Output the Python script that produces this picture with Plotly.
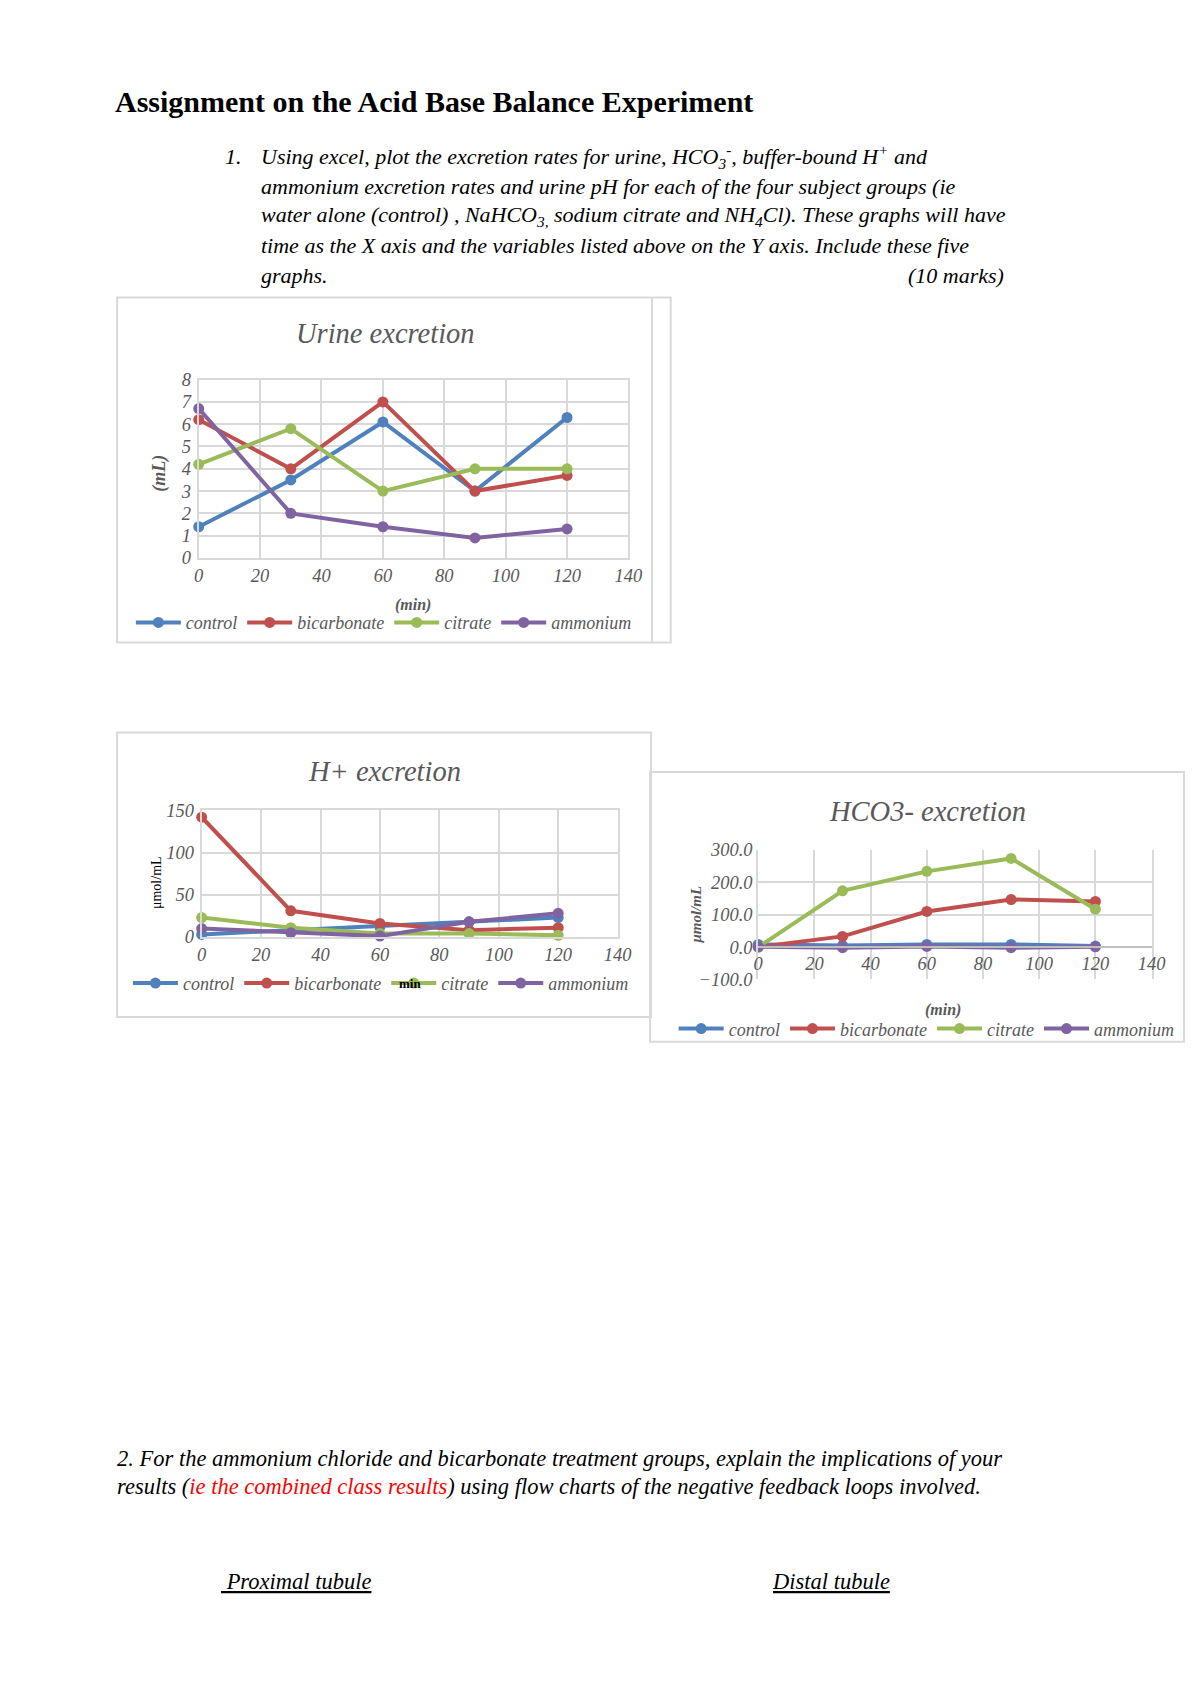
import plotly.graph_objects as go

W, H = 1200, 1698

# ---------------- data ----------------
times = [0, 30, 60, 90, 120]
groups = ["control", "bicarbonate", "citrate", "ammonium"]
colors = ["#4F81BD", "#C0504D", "#9BBB59", "#8064A2"]

urine_control = [1.4, 3.5, 6.1, 3.0, 6.3]
urine_bicarbonate = [6.2, 4.0, 7.0, 3.0, 3.7]
urine_citrate = [4.2, 5.8, 3.0, 4.0, 4.0]
urine_ammonium = [6.7, 2.0, 1.4, 0.9, 1.3]

h_control = [3, 8, 12, 18, 23]
h_bicarbonate = [142, 31, 16, 8, 11]
h_citrate = [23, 11, 4, 4, 2]
h_ammonium = [10, 5, 1, 18, 28]

hco3_control = [8, 5, 8, 8, 3]
hco3_bicarbonate = [0, 33, 110, 147, 141]
hco3_citrate = [0, 174, 234, 274, 117]
hco3_ammonium = [1, -2, 2, -2, 1]

x_ticks = [0, 20, 40, 60, 80, 100, 120, 140]

FONT = "Liberation Serif"
GRAY = "#595959"
GRID = "#D9D9D9"


def px(x):
    return x / W


def py(y):
    return 1 - y / H


fig = go.Figure()

series = [
    ("", "legend", [urine_control, urine_bicarbonate, urine_citrate, urine_ammonium]),
    ("2", "legend2", [h_control, h_bicarbonate, h_citrate, h_ammonium]),
    ("3", "legend3", [hco3_control, hco3_bicarbonate, hco3_citrate, hco3_ammonium]),
]
for suffix, leg, vals in series:
    for name, col, v in zip(groups, colors, vals):
        fig.add_trace(go.Scatter(
            x=times, y=v, name=name, mode="lines+markers",
            line=dict(color=col, width=4),
            marker=dict(color=col, size=11),
            xaxis="x" + suffix, yaxis="y" + suffix,
            legend=leg, cliponaxis=False,
        ))

tickfont = dict(family=FONT, size=18.5, color=GRAY, style="italic")


def axis(**kw):
    base = dict(showgrid=True, gridcolor=GRID, gridwidth=2, showline=True,
                linecolor=GRID, linewidth=2, mirror=True, zeroline=False,
                tickfont=tickfont, ticks="", fixedrange=True)
    base.update(kw)
    return base


fig.update_layout(
    xaxis=axis(domain=[px(197), px(634)], range=[0, 140], tickvals=x_ticks, anchor="y"),
    yaxis=axis(domain=[py(554.5), py(374)], range=[0, 8], dtick=1, anchor="x",
               ticklabelstandoff=2),
    xaxis2=axis(domain=[px(200), px(623)], range=[0, 140], tickvals=x_ticks, anchor="y2"),
    yaxis2=axis(domain=[py(938), py(810)], range=[0, 150], dtick=50, anchor="x2",
                ticklabelstandoff=2),
    xaxis3=axis(domain=[px(766), px(1166)], range=[0, 140], tickvals=x_ticks,
                anchor="free", position=py(981 - 131 * 0.25), mirror=False,
                linecolor="#BFBFBF"),
    yaxis3=axis(domain=[py(981), py(850)], range=[-100, 300], dtick=100,
                tickformat=".1f", anchor="x3", ticklabelstandoff=0),
)

legend_common = dict(orientation="h", xanchor="left", yanchor="middle",
                     font=dict(family=FONT, size=18, color=GRAY, style="italic"),
                     itemwidth=45, bgcolor="rgba(0,0,0,0)", tracegroupgap=0)
fig.update_layout(
    legend=dict(x=px(128), y=py(620), **legend_common),
    legend2=dict(x=px(125), y=py(985), **legend_common),
    legend3=dict(x=px(680), y=py(1031), **legend_common),
)

ann = []


def text(x, y, s, size=22, color="black", anchor="left", style="italic",
         weight="normal", angle=0, **kw):
    ann.append(dict(x=px(x), y=py(y), xref="paper", yref="paper", text=s,
                    showarrow=False, xanchor=anchor, yanchor="middle",
                    textangle=angle,
                    font=dict(family=FONT, size=size, color=color, style=style,
                              weight=weight, **kw)))


# document text
text(110, 93, "Assignment on the Acid Base Balance Experiment", size=30,
     style="normal", weight="bold")
text(222, 148.5, "1.")
body = [
    "Using excel, plot the excretion rates for urine, HCO<sub>3</sub><sup>-</sup>, buffer-bound H<sup>+</sup> and",
    "ammonium excretion rates and urine pH for each of the four subject groups (ie",
    "water alone (control) , NaHCO<sub>3,</sub> sodium citrate and NH<sub>4</sub>Cl). These graphs will have",
    "time as the X axis and the variables listed above on the Y axis. Include these five",
    "graphs.",
]
for i, line in enumerate(body):
    text(258, 148.5 + i * 30.1, line)
text(1018, 269, "(10 marks)", anchor="right")

text(112, 1465.5, "2. For the ammonium chloride and bicarbonate treatment groups, explain the implications of your", size=22.5)
text(112, 1494.5, "results (<span style='color:red'>ie the combined class results</span>) using flow charts of the negative feedback loops involved.", size=22.5)
text(218, 1590, " Proximal tubule", lineposition="under", size=22.5)
text(778, 1590, "Distal tubule", lineposition="under", size=22.5)

# chart titles
text(387, 327, "Urine excretion", size=28.5, color=GRAY, anchor="center")
text(386, 771, "H+ excretion", size=28.5, color=GRAY, anchor="center")
text(938, 811, "HCO3- excretion", size=28.5, color=GRAY, anchor="center")

# axis titles
text(157, 469, "(mL)", size=18, color=GRAY, anchor="center", angle=-90, weight="bold")
text(415, 602, "(min)", size=16, color=GRAY, anchor="center", weight="bold")
text(154, 883, "μmol/mL", size=14, color="black", anchor="center", angle=-90,
     style="normal")
text(412, 985, "min", size=13, color="black", anchor="center", weight="bold",
     style="normal")
text(703, 915, "μmol/mL", size=15, color=GRAY, anchor="center", angle=-90, weight="bold")
text(954, 1012, "(min)", size=16, color=GRAY, anchor="center", weight="bold")

fig.update_layout(annotations=ann)

# chart boxes
box = dict(type="rect", xref="paper", yref="paper", line=dict(color=GRID, width=2),
           fillcolor="rgba(0,0,0,0)", layer="below")
shapes = [
    dict(box, x0=px(114), x1=px(677), y0=py(640), y1=py(291)),
    dict(type="line", xref="paper", yref="paper", x0=px(658), x1=px(658),
         y0=py(640), y1=py(291), line=dict(color=GRID, width=2)),
    dict(box, x0=px(114), x1=px(657), y0=py(1019), y1=py(731)),
    dict(box, x0=px(656), x1=px(1199), y0=py(1044), y1=py(771)),
]
fig.update_layout(shapes=shapes)

fig.update_layout(width=W, height=H, margin=dict(l=0, r=0, t=0, b=0),
                  paper_bgcolor="white", plot_bgcolor="white", showlegend=True)

fig.write_html("out.html", config={"displayModeBar": False})
